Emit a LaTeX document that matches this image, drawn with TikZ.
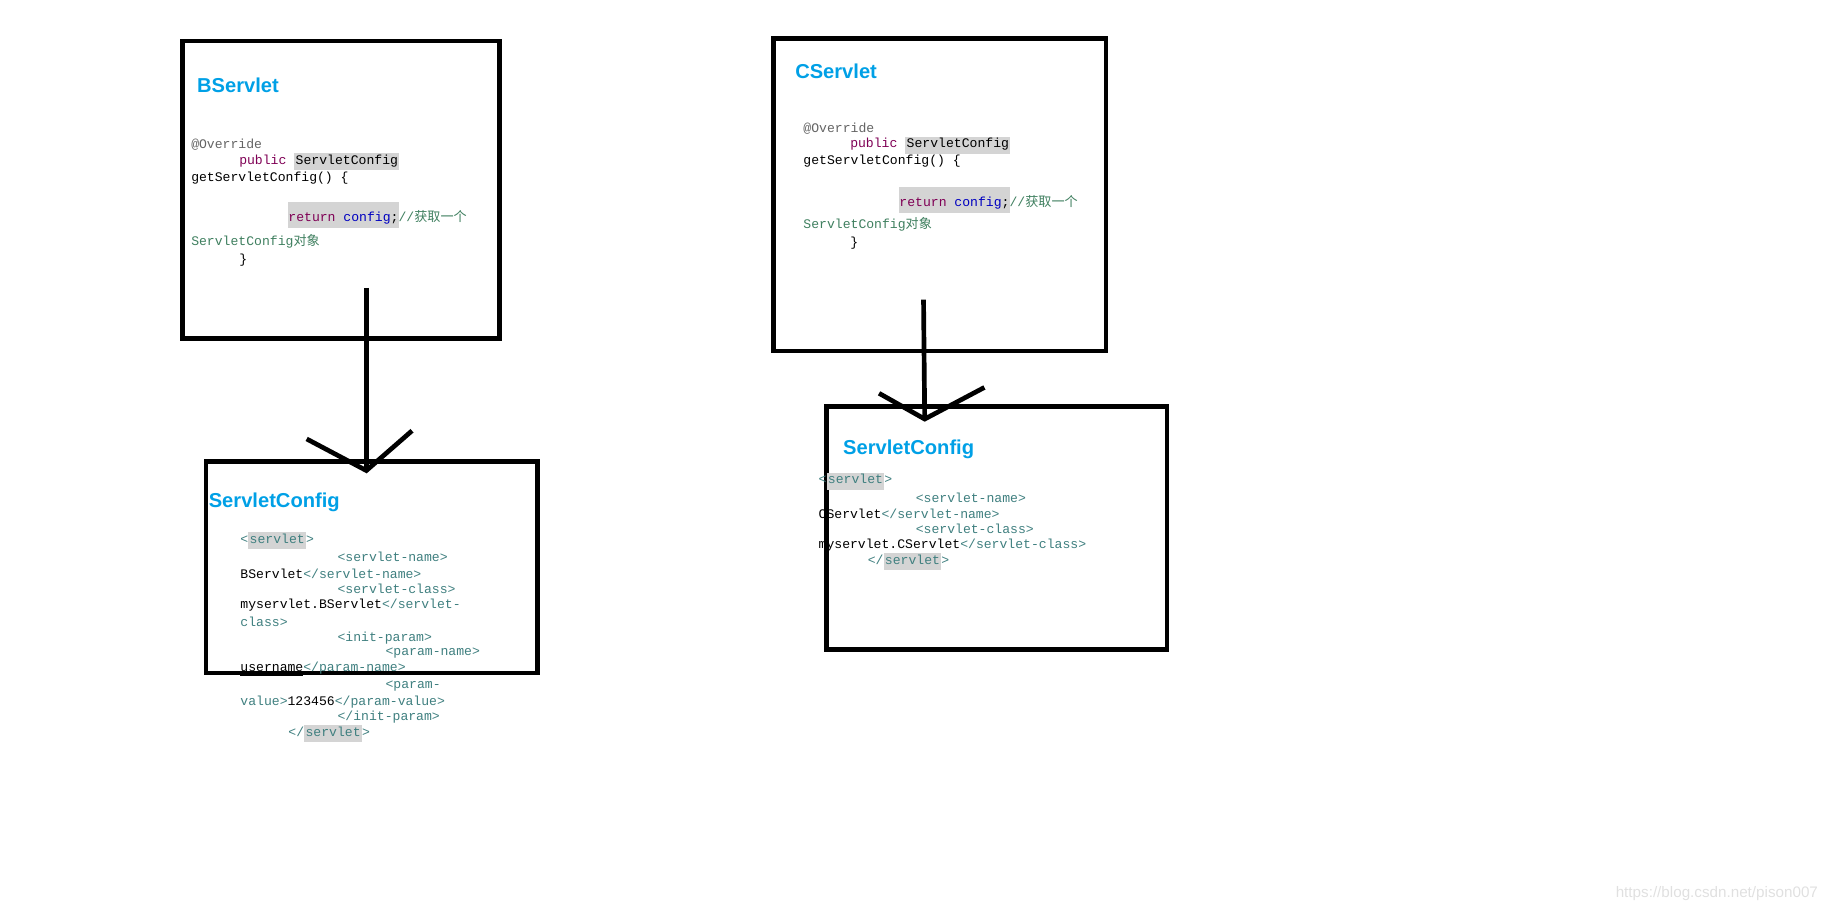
\documentclass[tikz,border=0pt]{standalone}
\usepackage{fontspec}
\setmainfont{Liberation Sans}
\setmonofont{Liberation Mono}
\newfontfamily\cjk{Noto Sans CJK SC}
\definecolor{ttl}{RGB}{0,160,230}
\definecolor{ann}{RGB}{100,100,100}
\definecolor{kw}{RGB}{127,0,85}
\definecolor{fld}{RGB}{0,0,192}
\definecolor{cmt}{RGB}{63,127,95}
\definecolor{tag}{RGB}{63,127,127}
\definecolor{hlg}{RGB}{212,212,212}
\newcommand\hlx[1]{{\setlength{\fboxsep}{0.6pt}\colorbox{hlg}{\strut #1}}}
\newcommand\hlt[1]{{\setlength{\fboxsep}{0pt}\colorbox{hlg}{\rule[-3pt]{0pt}{11pt}#1}}}
\tikzset{
 box/.style={draw=black,line width=2pt},
 code/.style={anchor=west,inner sep=0pt,font=\ttfamily\fontsize{5.6}{6}\selectfont},
 ttlnode/.style={anchor=west,inner sep=0pt,text=ttl,font=\bfseries\fontsize{8.6}{9}\selectfont},
 arr/.style={line width=2pt}
}
\begin{document}
\begin{tikzpicture}[x=0.5pt,y=-0.5pt]
\useasboundingbox (0,0) rectangle (1560,775);
% boxes
\draw[box] (156,35) rectangle (427,289);
\draw[box] (661,33) rectangle (945,300);
\draw[box] (176,394) rectangle (459,575);
\draw[box] (706,347) rectangle (997,555);
% titles
\node[ttlnode] (t1) at (168,73) {BServlet};
\node[ttlnode] (t2) at (679,61) {CServlet};
\node[ttlnode] (t3) at (178,429) {ServletConfig};
\node[ttlnode] (t4) at (720,384) {ServletConfig};
% left code
\node[code,text=ann] (a1) at (163,124) {@Override};
\node[code] (a2) at (204,138) {\textcolor{kw}{public} \hlx{ServletConfig}};
\node[code] (a3) at (163,152) {getServletConfig() \{};
\node[code] (a4) at (246,184) {\hlt{\textcolor{kw}{return} \textcolor{fld}{config};}\textcolor{cmt}{//{\cjk 获取一个}}};
\node[code,text=cmt] (a5) at (163,206) {ServletConfig{\cjk 对象}};
\node[code] (a6) at (204,222) {\}};
% right code
\node[code,text=ann] (b1) at (686,110) {@Override};
\node[code] (b2) at (726,124) {\textcolor{kw}{public} \hlx{ServletConfig}};
\node[code] (b3) at (686,138) {getServletConfig() \{};
\node[code] (b4) at (768,171) {\hlt{\textcolor{kw}{return} \textcolor{fld}{config};}\textcolor{cmt}{//{\cjk 获取一个}}};
\node[code,text=cmt] (b5) at (686,192) {ServletConfig{\cjk 对象}};
\node[code] (b6) at (726,208) {\}};
% left xml
\node[code,text=tag] (c1) at (205,462) {<\hlx{servlet}>};
\node[code,text=tag] (c2) at (288,476) {<servlet-name>};
\node[code,text=tag] (c3) at (205,490) {\textcolor{black}{BServlet}</servlet-name>};
\node[code,text=tag] (c4) at (288,503) {<servlet-class>};
\node[code,text=tag] (c5) at (205,517) {\textcolor{black}{myservlet.BServlet}</servlet-};
\node[code,text=tag] (c6) at (205,531) {class>};
\node[code,text=tag] (c7) at (288,545) {<init-param>};
\node[code,text=tag] (c8) at (329,558) {<param-name>};
\node[code,text=tag] (c9) at (205,572) {\textcolor{black}{\underline{username}}</param-name>};
\node[code,text=tag] (c10) at (329,586) {<param-};
\node[code,text=tag] (c11) at (205,600) {value>\textcolor{black}{123456}</param-value>};
\node[code,text=tag] (c12) at (288,613) {</init-param>};
\node[code,text=tag] (c13) at (246,627) {</\hlx{servlet}>};
% right xml
\node[code,text=tag] (d1) at (699,411) {<\hlx{servlet}>};
\node[code,text=tag] (d2) at (782,425) {<servlet-name>};
\node[code,text=tag] (d3) at (699,439) {\textcolor{black}{CServlet}</servlet-name>};
\node[code,text=tag] (d4) at (782,452) {<servlet-class>};
\node[code,text=tag] (d5) at (699,466) {\textcolor{black}{myservlet.CServlet}</servlet-class>};
\node[code,text=tag] (d6) at (741,480) {</\hlx{servlet}>};
% arrows
\coordinate (p1) at (313,246); \coordinate (q1) at (313,402);
\coordinate (l1) at (262,375); \coordinate (r1) at (352,368);
\draw[arr] (p1) -- (q1);
\draw[arr] (l1) -- (q1) -- (r1);
\coordinate (p2) at (789,256); \coordinate (q2) at (790,358);
\coordinate (l2) at (751,336); \coordinate (r2) at (841,331);
\draw[arr] (p2) -- (q2);
\draw[arr] (l2) -- (q2) -- (r2);
% watermark
\node[anchor=west,inner sep=0pt,text=black!12,font=\fontsize{6.5}{7}\selectfont] (wm) at (1380,763) {https://blog.csdn.net/pison007};
\end{tikzpicture}
\end{document}
